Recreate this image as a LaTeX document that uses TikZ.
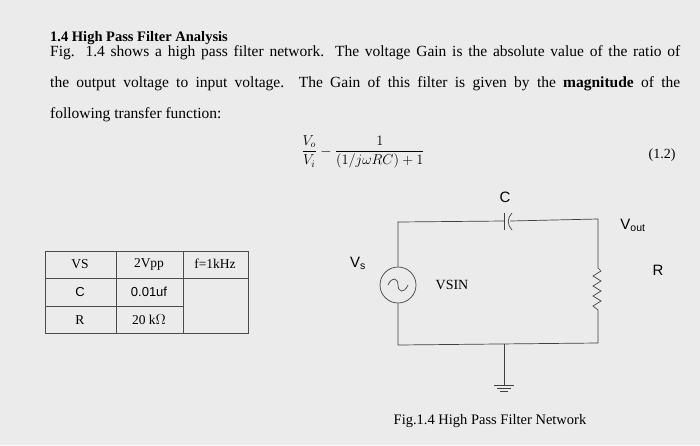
\documentclass[tikz,border=0pt]{standalone}
\usepackage{fontspec}
\setmainfont{Liberation Serif}
\newfontfamily\sansf{Liberation Sans}
\begin{document}
\begin{tikzpicture}[x=1pt,y=-1pt,
  wire/.style={draw=black!75,line width=0.7pt},
  body/.style={font=\fontsize{15.5}{31}\selectfont,anchor=north west,inner sep=0},
  lab/.style={font=\sansf\fontsize{15}{15}\selectfont,inner sep=0}]
\fill[black!8] (0,0) rectangle (700,445);
\useasboundingbox (0,0) rectangle (700,445);
\node[body,font=\bfseries\fontsize{14.5}{16}\selectfont] (title) at (50,31) {1.4 High Pass Filter Analysis};
\node[body,text width=630pt,align=justify] (para) at (50,45) {Fig. 1.4 shows a high pass filter network. The voltage Gain is the absolute value of the ratio of\linebreak the output voltage to input voltage.\ \ The Gain of this filter is given by the \textbf{magnitude} of the\linebreak following transfer function:};
\node[font=\fontsize{14}{16}\selectfont] (eq) at (363,152) {$\displaystyle \frac{V_o}{V_i}-\frac{1}{(1/j\omega RC)+1}$};
\node[font=\fontsize{14}{16}\selectfont] (num) at (662,155) {(1.2)};
% table
\draw[black!70,line width=0.6pt] (45,251) rectangle (248,333);
\draw[black!70,line width=0.6pt] (45,278) -- (248,278) (45,306) -- (183,306) (116,251) -- (116,333) (183,251) -- (183,333);
\node[font=\fontsize{13.5}{14}\selectfont] (t1) at (80,264) {VS};
\node[font=\fontsize{13.5}{14}\selectfont] (t2) at (149,264) {2Vpp};
\node[font=\fontsize{13.5}{14}\selectfont] (t3) at (215,264) {f=1kHz};
\node[font=\sansf\fontsize{13}{14}\selectfont] (t4) at (80,292) {C};
\node[font=\sansf\fontsize{13}{14}\selectfont] (t5) at (149,292) {0.01uf};
\node[font=\fontsize{13.5}{14}\selectfont] (t6) at (80,320) {R};
\node[font=\fontsize{13.5}{14}\selectfont] (t7) at (149,320) {20 k$\Omega$};
% circuit
\coordinate (tl) at (398,222); \coordinate (tr) at (598,219);
\coordinate (bl) at (398,345); \coordinate (br) at (598,343);
\coordinate (gnd) at (504,344); \coordinate (gb) at (504,385);
\node[circle,draw=black!75,line width=0.7pt,minimum size=36pt,inner sep=0] (src) at (398,285) {};
\draw[wire] ([xshift=-10pt]src.center) .. controls (392,276) and (398,278) .. (src.center) .. controls (398,292) and (404,294) .. ([xshift=10pt]src.center);
\coordinate (c1) at (504,221); \coordinate (c2) at (510,221);
\draw[wire] (src.north) -- (tl) -- (c1);
\draw[wire] (504,213) -- (504,230);
\draw[wire] (512,213) .. controls (507,218) and (507,225) .. (512,230);
\draw[wire] (c2) -- (tr) -- (598,268);
\draw[wire] (598,268) -- (601,271) -- (593,276) -- (601,281) -- (593,286) -- (601,291) -- (593,296) -- (601,301) -- (593,306) -- (598,310) -- (br) -- (bl) -- (src.south);
\draw[wire] (gnd) -- (gb);
\draw[wire] (494,385) -- (514,385) (497,388) -- (511,388) (500,391) -- (508,391);
\node[lab] (lc) at (505,197) {C};
\node[lab] (lvo) at (633,225) {V\textsubscript{out}};
\node[lab] (lr) at (658,270) {R};
\node[lab] (lvs) at (358,263) {V\textsubscript{s}};
\node[font=\fontsize{14}{14}\selectfont] (lvsin) at (452,285) {VSIN};
\node[font=\fontsize{14.5}{14}\selectfont] (cap) at (490,421) {Fig.1.4 High Pass Filter Network};
\end{tikzpicture}
\end{document}
